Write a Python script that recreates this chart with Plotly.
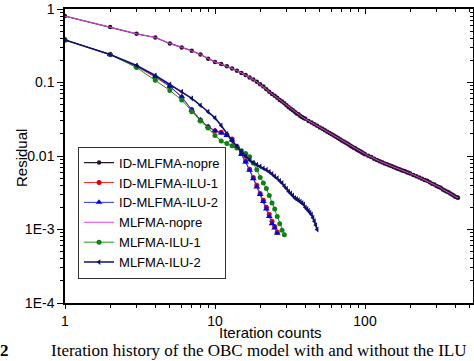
import plotly.graph_objects as go

# ---------------- data ----------------
nopre_iter = (list(range(1, 41)) + list(range(42, 101, 2)) + list(range(105, 201, 5))
              + list(range(210, 411, 10)) + [417])
mlfma_nopre = [0.80, 0.57, 0.46, 0.41, 0.34, 0.30, 0.27, 0.24, 0.21, 0.19,
               0.178, 0.166, 0.155, 0.145, 0.135, 0.126, 0.117, 0.110, 0.102, 0.095,
               0.088, 0.081, 0.075, 0.070, 0.066, 0.062, 0.058, 0.055, 0.052, 0.049,
               0.046, 0.044, 0.042, 0.040, 0.038, 0.037, 0.035, 0.034, 0.033, 0.032,
               0.0300, 0.0285, 0.0270, 0.0257, 0.0245, 0.0234, 0.0224, 0.0214, 0.0206, 0.0198,
               0.0190, 0.0183, 0.0176, 0.0169, 0.0163, 0.0158, 0.0153, 0.0148, 0.0143, 0.0138,
               0.0134, 0.0130, 0.0127, 0.0123, 0.0120, 0.0117, 0.0114, 0.0111, 0.0108, 0.0106,
               0.0101, 0.0097, 0.0092, 0.0088, 0.0085, 0.0082, 0.0079, 0.0077, 0.0075, 0.0073,
               0.0071, 0.0069, 0.0067, 0.0066, 0.0064, 0.0063, 0.0062, 0.0060, 0.0059, 0.0058,
               0.0055, 0.0053, 0.0051, 0.0049, 0.0047, 0.0046, 0.0044, 0.0042, 0.0041, 0.0039,
               0.0038, 0.0037, 0.0035, 0.0034, 0.0033, 0.0032, 0.0031, 0.0030, 0.0029, 0.0028,
               0.00275, 0.0027]
id_nopre = list(mlfma_nopre)

id_ilu1 = [0.38, 0.24, 0.165, 0.118, 0.088, 0.063, 0.043, 0.031, 0.025, 0.022,
           0.021, 0.0195, 0.017, 0.0135, 0.0108, 0.0085, 0.0066, 0.0051, 0.0040, 0.0031,
           0.0025, 0.0020, 0.0016, 0.0013, 0.0011, 0.00092]
id_ilu2 = [0.38, 0.24, 0.168, 0.122, 0.089, 0.064, 0.042, 0.031, 0.025, 0.022,
           0.0205, 0.019, 0.0165, 0.0135, 0.0105, 0.0083, 0.0064, 0.0049, 0.0038, 0.0030,
           0.0024, 0.0019, 0.0015, 0.0012, 0.00105, 0.00089]
mlfma_ilu1 = [0.38, 0.24, 0.16, 0.107, 0.078, 0.058, 0.040, 0.030, 0.024, 0.019,
              0.016, 0.0148, 0.0138, 0.0128, 0.0118, 0.0108, 0.0098, 0.0080, 0.0065, 0.0051,
              0.0043, 0.0036, 0.0029, 0.0023, 0.0019, 0.0015, 0.0012, 0.00098, 0.00085]
mlfma_ilu2 = [0.38, 0.24, 0.17, 0.125, 0.094, 0.075, 0.061, 0.049, 0.040, 0.033,
              0.026, 0.020, 0.016, 0.0135, 0.0115, 0.0098, 0.0088, 0.0081, 0.0076, 0.0072,
              0.0068, 0.0065, 0.0061, 0.0057, 0.0053, 0.0050, 0.0046, 0.0043, 0.0039, 0.0036,
              0.0033, 0.0031, 0.0029, 0.0027, 0.0026, 0.0025, 0.0024, 0.0023, 0.0022, 0.0020,
              0.0019, 0.0018, 0.0017, 0.0016, 0.00145, 0.0013, 0.00115, 0.0010]

x_tickvals = [1, 10, 100]
x_ticktext = ["1", "10", "100"]
x_minor = [2, 3, 4, 5, 6, 7, 8, 9, 20, 30, 40, 50, 60, 70, 80, 90, 200, 300, 400, 500]
y_tickvals = [1e-4, 1e-3, 1e-2, 1e-1, 1]
y_ticktext = ["1E-4", "1E-3", "0.01", "0.1", "1"]
y_minor = [m * d for d in [1e-4, 1e-3, 1e-2, 1e-1] for m in range(2, 10)]

FONT = "Arial, 'Liberation Sans', sans-serif"

fig = go.Figure()

def it(vals):
    return list(range(1, len(vals) + 1))

fig.add_trace(go.Scatter(x=nopre_iter, y=id_nopre, name="ID-MLFMA-nopre", mode="lines+markers",
                         line=dict(color="#2a1430", width=1.2),
                         marker=dict(symbol="circle", size=4.5, color="#2a1430")))
fig.add_trace(go.Scatter(x=it(id_ilu1), y=id_ilu1, name="ID-MLFMA-ILU-1", mode="lines+markers",
                         line=dict(color="#ff2020", width=1),
                         marker=dict(symbol="circle", size=5, color="#e00000")))
fig.add_trace(go.Scatter(x=it(id_ilu2), y=id_ilu2, name="ID-MLFMA-ILU-2", mode="lines+markers",
                         line=dict(color="#3030ff", width=1),
                         marker=dict(symbol="triangle-up", size=6, color="#0000e0")))
fig.add_trace(go.Scatter(x=nopre_iter, y=mlfma_nopre, name="MLFMA-nopre", mode="lines",
                         line=dict(color="#e040e0", width=1)))
fig.add_trace(go.Scatter(x=it(mlfma_ilu1), y=mlfma_ilu1, name="MLFMA-ILU-1", mode="lines+markers",
                         line=dict(color="#1a9a1a", width=1),
                         marker=dict(symbol="circle", size=5, color="#108010")))
fig.add_trace(go.Scatter(x=it(mlfma_ilu2), y=mlfma_ilu2, name="MLFMA-ILU-2", mode="lines+markers",
                         line=dict(color="#10106e", width=1.6),
                         marker=dict(symbol="triangle-left", size=5, color="#10106e")))
# dummy trace to realise the mirrored (top/right) axes
fig.add_trace(go.Scatter(x=[1], y=[1], xaxis="x2", yaxis="y2", mode="markers",
                         marker=dict(opacity=0), showlegend=False, hoverinfo="skip"))

axis_common = dict(type="log", showgrid=False, zeroline=False, showline=True,
                   linecolor="black", linewidth=1.5, tickcolor="black", tickwidth=1.2)

XR = [0, 2.72]
YR = [-4.0, 0.0]

fig.update_layout(
    width=474, height=361,
    margin=dict(l=65, r=1, t=7, b=58),
    paper_bgcolor="white", plot_bgcolor="white",
    font=dict(family=FONT, size=14, color="black"),
    showlegend=True,
    legend=dict(x=0.032, y=(303 - 212) / 296, xanchor="left", yanchor="middle",
                bgcolor="white", bordercolor="#333333", borderwidth=1,
                font=dict(family=FONT, size=13, color="black"),
                tracegroupgap=0, itemwidth=30),
    xaxis=dict(**axis_common, range=XR, tickmode="array", tickvals=x_tickvals,
               ticktext=x_ticktext, ticks="outside", ticklen=4, ticklabeloverflow="allow",
               minor=dict(tickmode="array", tickvals=x_minor, ticks="outside", ticklen=3,
                          tickcolor="black", tickwidth=1, showgrid=False),
               tickfont=dict(family=FONT, size=14, color="black")),
    yaxis=dict(**axis_common, range=YR, tickmode="array", tickvals=y_tickvals,
               ticktext=y_ticktext, ticks="outside", ticklen=6, ticklabeloverflow="allow",
               minor=dict(tickmode="array", tickvals=y_minor, ticks="outside", ticklen=3,
                          tickcolor="black", tickwidth=1, showgrid=False),
               tickfont=dict(family=FONT, size=14, color="black")),
    xaxis2=dict(**axis_common, overlaying="x", side="top", anchor="y2", range=XR,
                tickmode="array", tickvals=x_tickvals, ticks="inside", ticklen=5,
                showticklabels=False,
                minor=dict(tickmode="array", tickvals=x_minor, ticks="inside", ticklen=3,
                           tickcolor="black", tickwidth=1, showgrid=False)),
    yaxis2=dict(**axis_common, overlaying="y", side="right", anchor="x2", range=YR,
                tickmode="array", tickvals=y_tickvals, ticks="inside", ticklen=6,
                showticklabels=False,
                minor=dict(tickmode="array", tickvals=y_minor, ticks="inside", ticklen=3,
                           tickcolor="black", tickwidth=1, showgrid=False)),
)

fig.add_annotation(text="Residual", xref="paper", yref="paper",
                   x=(22 - 65) / 408, y=(303 - 157) / 296, xanchor="center", yanchor="middle",
                   textangle=-90, showarrow=False, font=dict(family=FONT, size=15, color="black"))
fig.add_annotation(text="Iteration counts", xref="paper", yref="paper",
                   x=(270 - 65) / 408, y=(303 - 333) / 296, xanchor="center", yanchor="middle",
                   showarrow=False, font=dict(family=FONT, size=15, color="black"))
fig.add_annotation(text="<b>2</b>          Iteration history of the OBC model with and without the ILU",
                   xref="paper", yref="paper", x=(-2 - 65) / 408, y=(303 - 339) / 296,
                   xanchor="left", yanchor="top", showarrow=False,
                   font=dict(family="'Times New Roman', 'Liberation Serif', serif", size=17,
                             color="black"))

fig.write_html("out.html", config={"displayModeBar": False},
               post_script="document.body.style.margin='0px';document.body.style.padding='0px';")
